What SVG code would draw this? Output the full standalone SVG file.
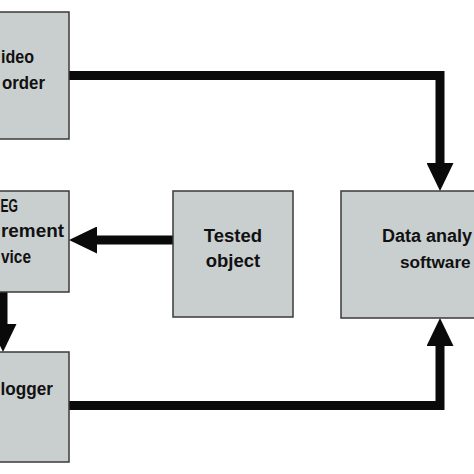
<svg xmlns="http://www.w3.org/2000/svg" width="474" height="474" viewBox="0 0 474 474">
<style>
.box{fill:#c9cfcf;stroke:#3a3a3a;stroke-width:1.5}
.lbl{font-family:"Liberation Sans",Arial,sans-serif;font-weight:bold;font-size:18.5px;fill:#111;text-anchor:middle}
.st{text-anchor:start}
.conn{fill:none;stroke:#0a0a0a;stroke-width:9;stroke-linejoin:miter;stroke-linecap:butt}
</style>
<defs>
<marker id="ah" markerUnits="userSpaceOnUse" markerWidth="28" markerHeight="27" refX="0" refY="13.5" orient="auto" viewBox="0 0 28 27">
<path d="M0,0 L28,13.5 L0,27 Z" fill="#0a0a0a"/>
</marker>
</defs>
<rect width="474" height="474" fill="#fff"/>
<g id="connectors">
<path class="conn" d="M69,75.5 H440 V163" marker-end="url(#ah)"/>
<path class="conn" d="M69,405.5 H440 V346" marker-end="url(#ah)"/>
<path class="conn" d="M173,240 H97" marker-end="url(#ah)"/>
<path class="conn" d="M3,292 V324" marker-end="url(#ah)"/>
</g>
<g id="video-recorder">
<rect class="box" x="-53" y="12" width="122" height="127"/>
<text class="lbl st" x="1" y="63" textLength="33" lengthAdjust="spacingAndGlyphs">ideo</text>
<text class="lbl st" x="2" y="89" textLength="43" lengthAdjust="spacingAndGlyphs">order</text>
</g>
<g id="eeg-device">
<rect class="box" x="-53" y="191" width="122" height="101"/>
<text class="lbl st" x="0.5" y="212" textLength="17.5" lengthAdjust="spacingAndGlyphs">EG</text>
<text class="lbl st" x="1" y="237" textLength="63" lengthAdjust="spacingAndGlyphs">rement</text>
<text class="lbl st" x="1" y="263" textLength="30" lengthAdjust="spacingAndGlyphs">vice</text>
</g>
<g id="data-logger">
<rect class="box" x="-53" y="352" width="122" height="110"/>
<text class="lbl st" x="0.5" y="395" textLength="52.5" lengthAdjust="spacingAndGlyphs">logger</text>
</g>
<g id="tested-object">
<rect class="box" x="173" y="191" width="120" height="126"/>
<text class="lbl" x="233" y="242">Tested</text>
<text class="lbl" x="233" y="267">object</text>
</g>
<g id="data-analysis">
<rect class="box" x="341" y="191" width="198" height="127"/>
<text class="lbl st" x="382" y="242" style="font-size:18px">Data analy</text>
<text class="lbl st" x="400" y="268" style="font-size:17.2px">software</text>
</g>
</svg>
